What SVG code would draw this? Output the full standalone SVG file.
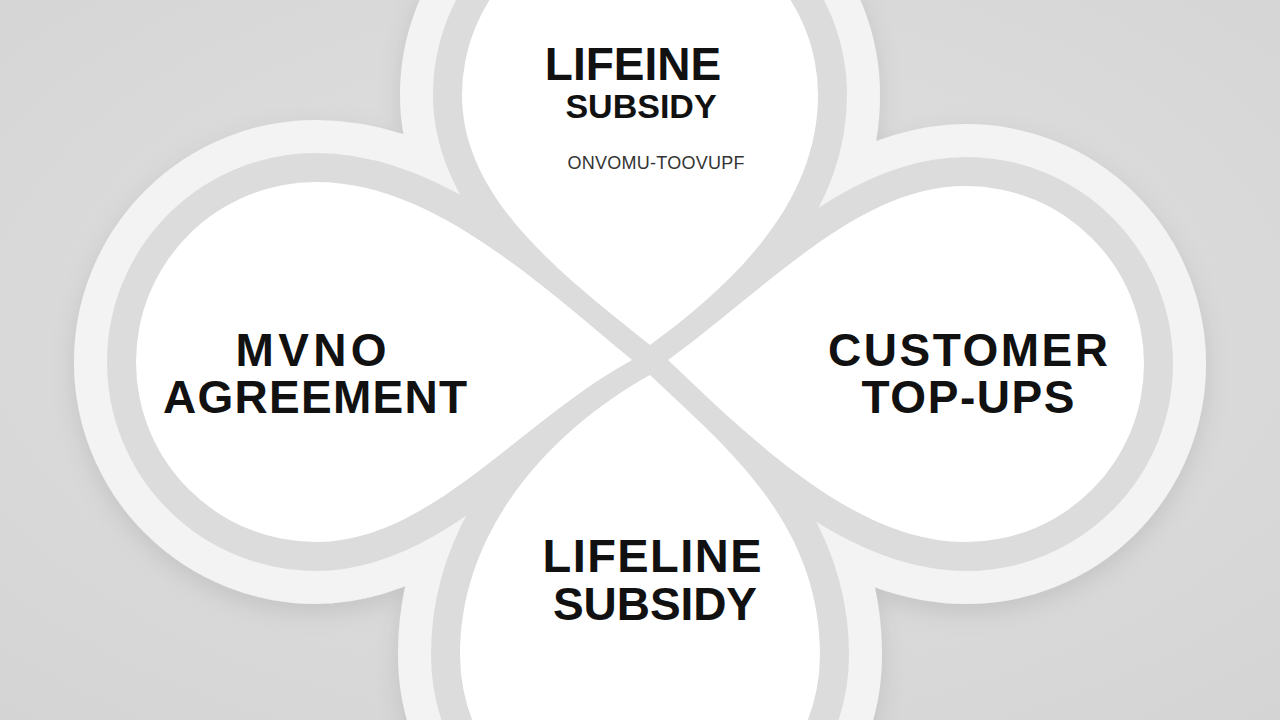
<svg xmlns="http://www.w3.org/2000/svg" xmlns:xlink="http://www.w3.org/1999/xlink" width="1280" height="720" viewBox="0 0 1280 720">
<defs>
<radialGradient id="bg" cx="0.5" cy="0.45" r="0.75">
<stop offset="0" stop-color="#e2e2e2"/>
<stop offset="1" stop-color="#d4d4d4"/>
</radialGradient>
<filter id="sh" x="-20%" y="-20%" width="140%" height="140%">
<feDropShadow dx="0" dy="8" stdDeviation="12" flood-color="#000" flood-opacity="0.10"/>
</filter>
<path id="p-top" d="M650,345 C564,276 462,200 462,95 A178,178 0 0 1 818,95 C818,200 739,280 650,345 Z"/>
<path id="p-left" d="M632,360 C533,278 430,182 316,182 A180,180 0 0 0 316,542 C430,542 519,422 632,360 Z"/>
<path id="p-right" d="M668,360 C773,283 860,186 966,186 A178,178 0 0 1 966,542 C860,542 762,450 668,360 Z"/>
<path id="p-bottom" d="M650,375 C563,423 460,520 460,655 A180,180 0 0 0 820,655 C820,520 722,444 650,375 Z"/>
</defs>
<style>
.rim{fill:#f3f3f3;stroke:#f3f3f3;stroke-width:124;stroke-linejoin:round}
.band{fill:#dcdcdc;stroke:#dcdcdc;stroke-width:58;stroke-linejoin:round}
.face{fill:#ffffff}
.t{font-family:"Liberation Sans",Arial,sans-serif;font-weight:bold;fill:#111;text-anchor:middle}
.s{font-family:"Liberation Sans",Arial,sans-serif;font-weight:normal;fill:#333;text-anchor:middle}
</style>
<rect width="1280" height="720" fill="url(#bg)"/>
<g id="rims" filter="url(#sh)">
<use xlink:href="#p-top" class="rim"/>
<use xlink:href="#p-left" class="rim"/>
<use xlink:href="#p-right" class="rim"/>
<use xlink:href="#p-bottom" class="rim"/>
</g>
<g id="bands">
<use xlink:href="#p-top" class="band"/>
<use xlink:href="#p-left" class="band"/>
<use xlink:href="#p-right" class="band"/>
<use xlink:href="#p-bottom" class="band"/>
</g>
<g id="node-top">
<use xlink:href="#p-top" class="face"/>
<text class="t" x="633" y="80" font-size="46">LIFEINE</text>
<text class="t" x="641" y="118" font-size="34">SUBSIDY</text>
<text class="s" x="656" y="169" font-size="18" textLength="177">ONVOMU-TOOVUPF</text>
</g>
<g id="node-left">
<use xlink:href="#p-left" class="face"/>
<text class="t" x="311" y="366" font-size="46" textLength="151">MVNO</text>
<text class="t" x="315" y="413" font-size="46" textLength="304">AGREEMENT</text>
</g>
<g id="node-right">
<use xlink:href="#p-right" class="face"/>
<text class="t" x="968" y="366" font-size="46" textLength="280">CUSTOMER</text>
<text class="t" x="968" y="413" font-size="46" textLength="213">TOP-UPS</text>
</g>
<g id="node-bottom">
<use xlink:href="#p-bottom" class="face"/>
<text class="t" x="652" y="572" font-size="47" textLength="219">LIFELINE</text>
<text class="t" x="655" y="620" font-size="46" textLength="204">SUBSIDY</text>
</g>
</svg>
